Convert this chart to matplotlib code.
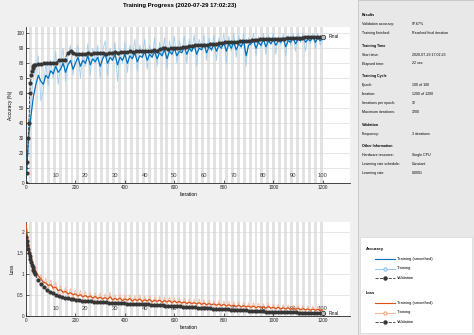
import numpy as np
import matplotlib
matplotlib.use("Agg")
import matplotlib.pyplot as plt
from matplotlib.lines import Line2D
from matplotlib.patches import Rectangle

plt.rcParams['font.family'] = ['Liberation Sans', 'DejaVu Sans']

# training curves read every 10 iterations
train_iter = np.arange(0, 1201, 10)
# validation ran every 3 iterations; read densely at the start, then once per epoch
val_iter = np.r_[np.arange(0, 36, 3), np.arange(36, 1201, 12)]

acc_smooth = [
    0, 30, 45, 58, 66, 72, 68, 66, 72, 70,
    75, 73, 78, 74, 76, 80, 74, 79, 82, 76,
    80, 84, 78, 82, 80, 85, 79, 83, 81, 84,
    78, 83, 86, 80, 84, 82, 86, 79, 84, 82,
    86, 80, 85, 83, 87, 81, 85, 84, 88, 82,
    86, 84, 88, 83, 87, 85, 89, 83, 88, 86,
    90, 85, 88, 87, 91, 86, 90, 88, 92, 86,
    90, 89, 93, 87, 91, 89, 93, 88, 92, 90,
    94, 88, 93, 90, 94, 89, 93, 91, 95, 85,
    92, 93, 95, 90, 94, 92, 96, 91, 95, 93,
    96, 92, 95, 94, 97, 91, 95, 94, 97, 93,
    96, 95, 98, 94, 96, 95, 98, 94, 97, 95,
    97]
acc_raw = [
    0, 40, 55, 70, 78, 85, 55, 62, 80, 65,
    82, 70, 88, 66, 80, 90, 68, 85, 92, 72,
    86, 92, 70, 88, 78, 93, 72, 90, 80, 92,
    70, 88, 95, 72, 90, 82, 94, 68, 90, 80,
    94, 74, 92, 84, 96, 75, 92, 84, 96, 76,
    92, 84, 97, 78, 94, 85, 97, 76, 95, 86,
    98, 80, 95, 88, 98, 80, 96, 88, 99, 78,
    96, 90, 99, 82, 97, 88, 99, 82, 97, 90,
    100, 80, 98, 88, 100, 84, 98, 90, 100, 78,
    97, 92, 100, 85, 98, 90, 100, 86, 99, 92,
    100, 86, 98, 92, 100, 85, 99, 92, 100, 88,
    100, 94, 100, 88, 99, 93, 100, 90, 100, 92,
    96]
acc_val = [
    0, 7, 14, 30, 40, 60, 67, 72, 75, 77, 78, 79,
    79, 79.5, 79.5, 80, 80, 80, 80, 80, 82, 82,
    82, 87, 88.5, 87, 86, 86.5, 86.5, 86.5, 87, 86.5,
    87, 87, 87, 87, 86.5, 87, 87, 87.5, 87, 87.5,
    87.5, 87.5, 88, 87.5, 88, 88, 88, 88, 88.5, 88.5,
    89, 88.5, 89.5, 90, 90, 89.5, 90, 90, 90.5, 90.5,
    91, 91, 91.5, 91.5, 92, 92, 92, 92.5, 92.5, 93,
    93, 93, 93.5, 93.5, 94, 94, 94, 94.5, 94.5, 95,
    95, 95, 95, 95.5, 95.5, 95.5, 96, 96, 96, 96,
    96, 96.5, 96.5, 96.5, 96.5, 97, 97, 97, 97, 97,
    97, 97.5, 97.5, 97.5, 97.5, 97.5, 97.5, 97.67]

loss_smooth = [
    2.2, 1.7, 1.4, 1.2, 1.05, 0.95, 0.88, 0.8, 0.78, 0.72,
    0.74, 0.66, 0.68, 0.6, 0.62, 0.56, 0.58, 0.52, 0.55, 0.5,
    0.52, 0.47, 0.5, 0.45, 0.48, 0.44, 0.47, 0.42, 0.46, 0.41,
    0.44, 0.4, 0.43, 0.39, 0.45, 0.38, 0.41, 0.38, 0.42, 0.36,
    0.4, 0.37, 0.41, 0.35, 0.39, 0.36, 0.4, 0.34, 0.38, 0.35,
    0.39, 0.33, 0.37, 0.34, 0.37, 0.32, 0.36, 0.33, 0.36, 0.31,
    0.35, 0.31, 0.34, 0.3, 0.33, 0.29, 0.32, 0.29, 0.31, 0.28,
    0.31, 0.27, 0.3, 0.26, 0.29, 0.26, 0.28, 0.25, 0.28, 0.24,
    0.27, 0.23, 0.26, 0.23, 0.25, 0.22, 0.25, 0.21, 0.24, 0.21,
    0.23, 0.2, 0.23, 0.19, 0.22, 0.19, 0.21, 0.18, 0.22, 0.18,
    0.2, 0.17, 0.2, 0.16, 0.19, 0.16, 0.19, 0.15, 0.18, 0.15,
    0.18, 0.14, 0.17, 0.14, 0.16, 0.13, 0.16, 0.13, 0.15, 0.12,
    0.14]
loss_raw = [
    2.25, 1.6, 1.5, 1.1, 1.15, 0.85, 0.98, 0.72, 0.9, 0.65,
    0.85, 0.6, 0.8, 0.52, 0.72, 0.5, 0.68, 0.45, 0.65, 0.42,
    0.62, 0.4, 0.6, 0.38, 0.58, 0.37, 0.56, 0.35, 0.55, 0.34,
    0.54, 0.33, 0.52, 0.32, 0.56, 0.31, 0.5, 0.3, 0.52, 0.29,
    0.5, 0.29, 0.5, 0.28, 0.48, 0.28, 0.5, 0.27, 0.46, 0.27,
    0.48, 0.26, 0.45, 0.26, 0.46, 0.25, 0.44, 0.25, 0.45, 0.24,
    0.43, 0.24, 0.42, 0.23, 0.42, 0.22, 0.4, 0.22, 0.39, 0.21,
    0.4, 0.2, 0.38, 0.2, 0.37, 0.19, 0.36, 0.18, 0.36, 0.18,
    0.35, 0.17, 0.34, 0.16, 0.33, 0.16, 0.33, 0.15, 0.32, 0.15,
    0.3, 0.14, 0.31, 0.13, 0.3, 0.13, 0.28, 0.12, 0.3, 0.12,
    0.27, 0.11, 0.27, 0.1, 0.26, 0.1, 0.26, 0.09, 0.25, 0.09,
    0.25, 0.08, 0.24, 0.08, 0.23, 0.07, 0.23, 0.07, 0.22, 0.07,
    0.2]
loss_val = [
    1.88, 1.78, 1.68, 1.58, 1.5, 1.42, 1.35, 1.28, 1.22, 1.16, 1.1, 1.05,
    1.0, 0.85, 0.75, 0.68, 0.62, 0.57, 0.53, 0.5, 0.47, 0.45,
    0.43, 0.42, 0.4, 0.39, 0.38, 0.37, 0.36, 0.355, 0.35, 0.34,
    0.335, 0.33, 0.325, 0.32, 0.315, 0.31, 0.31, 0.305, 0.3, 0.3,
    0.295, 0.29, 0.29, 0.285, 0.28, 0.28, 0.275, 0.27, 0.27, 0.265,
    0.26, 0.255, 0.25, 0.245, 0.24, 0.24, 0.235, 0.23, 0.225, 0.22,
    0.215, 0.21, 0.205, 0.2, 0.2, 0.195, 0.19, 0.185, 0.18, 0.175,
    0.17, 0.165, 0.16, 0.16, 0.155, 0.15, 0.145, 0.14, 0.14, 0.135,
    0.13, 0.125, 0.12, 0.12, 0.115, 0.11, 0.11, 0.105, 0.1, 0.1,
    0.095, 0.095, 0.09, 0.09, 0.085, 0.085, 0.08, 0.08, 0.078, 0.076,
    0.074, 0.072, 0.07, 0.068, 0.066, 0.065, 0.063, 0.062]

n_epochs = 100
iters_per_epoch = 12
epoch_labels = [10, 20, 30, 40, 50, 60, 70, 80, 90, 100]
x_ticks = [0, 200, 400, 600, 800, 1000, 1200]
acc_ticks = [0, 10, 20, 30, 40, 50, 60, 70, 80, 90, 100]
loss_ticks = [0, 0.5, 1, 1.5, 2]

title_text = 'Training Progress (2020-07-29 17:02:23)'
info_sections = [
    ('Results', [('Validation accuracy:', '97.67%'),
                 ('Training finished:', 'Reached final iteration')]),
    ('Training Time', [('Start time:', '2020-07-29 17:02:23'),
                       ('Elapsed time:', '22 sec')]),
    ('Training Cycle', [('Epoch:', '100 of 100'),
                        ('Iteration:', '1200 of 1200'),
                        ('Iterations per epoch:', '12'),
                        ('Maximum iterations:', '1200')]),
    ('Validation', [('Frequency:', '3 iterations')]),
    ('Other Information', [('Hardware resource:', 'Single CPU'),
                           ('Learning rate schedule:', 'Constant'),
                           ('Learning rate:', '0.0001')]),
]

BLUE = '#0072BD'
LIGHT_BLUE = '#96c8ee'
ORANGE = '#D95319'
LIGHT_ORANGE = '#f4b293'
VAL_DARK = '#363636'

W, H = 474, 335


def fx(px):
    return px / W


def fy(py):
    return 1 - py / H


def style_axes(ax, ylim, yticks, ylabel, epoch_label_y):
    ax.set_facecolor('white')
    # alternate epoch shading
    for e in range(1, n_epochs + 1):
        if e % 2 == 0:
            ax.axvspan((e - 1) * iters_per_epoch, e * iters_per_epoch,
                       color='#e2e2e2', lw=0, zorder=0)
    for e in epoch_labels:
        ax.text(e * iters_per_epoch, epoch_label_y, str(e), ha='center',
                va='center', fontsize=4.2, color='#404040', zorder=1)
    ax.set_xlim(0, 1310)
    ax.set_ylim(*ylim)
    ax.set_xticks(x_ticks)
    ax.set_yticks(yticks)
    ax.set_yticklabels([f'{t:g}' for t in yticks])
    ax.yaxis.grid(True, color='#d4d4d4', lw=0.4, zorder=0.5)
    ax.set_axisbelow(True)
    ax.tick_params(direction='in', length=2, width=0.5, labelsize=3.4,
                   pad=1.5, colors='#262626')
    for side in ['top', 'right']:
        ax.spines[side].set_visible(False)
    for side in ['left', 'bottom']:
        ax.spines[side].set_linewidth(0.6)
        ax.spines[side].set_color('#262626')
    ax.set_xlabel('Iteration', fontsize=3.5, labelpad=1.5)
    ax.set_ylabel(ylabel, fontsize=3.5, labelpad=2)


fig = plt.figure(figsize=(W / 100, H / 100), dpi=100, facecolor='#f0f0f0')

# right info panel and legend box
fig.add_artist(Rectangle((fx(358), 0), 1 - fx(358), 1, transform=fig.transFigure,
                         facecolor='#e8e8e8', edgecolor='#c4c4c4', lw=0.6))
fig.add_artist(Rectangle((fx(360), fy(333)), fx(472) - fx(360), fy(237) - fy(333),
                         transform=fig.transFigure, facecolor='white',
                         edgecolor='#d0d0d0', lw=0.4))

fig.text(fx(180), fy(6), title_text, ha='center', va='center',
         fontsize=4.3, fontweight='bold')

# accuracy plot
ax1 = fig.add_axes([fx(26), fy(183.3), fx(350) - fx(26), fy(27) - fy(183.3)])
style_axes(ax1, (0, 104.2), acc_ticks, 'Accuracy (%)', 5)
ax1.plot(train_iter, acc_raw, color=LIGHT_BLUE, lw=0.6, alpha=0.85, zorder=2)
ax1.plot(train_iter, acc_smooth, color=BLUE, lw=0.9, zorder=3)
ax1.plot(val_iter, acc_val, color=VAL_DARK, lw=0.6, ls='--', marker='o',
         ms=2.0, mec=VAL_DARK, mfc=VAL_DARK, zorder=4)
ax1.plot([val_iter[-1]], [acc_val[-1]], marker='o', ms=3.2, mfc='#bbbbbb',
         mec=VAL_DARK, mew=0.5, zorder=5)
ax1.text(val_iter[-1] + 25, acc_val[-1], 'Final', fontsize=3.3,
         va='center', ha='left', zorder=5)

# loss plot
ax2 = fig.add_axes([fx(26), fy(315.7), fx(350) - fx(26), fy(221.7) - fy(315.7)])
style_axes(ax2, (0, 2.24), loss_ticks, 'Loss', 0.16)
ax2.plot(train_iter, loss_raw, color=LIGHT_ORANGE, lw=0.6, alpha=0.85, zorder=2)
ax2.plot(train_iter, loss_smooth, color=ORANGE, lw=0.9, zorder=3)
ax2.plot(val_iter, loss_val, color=VAL_DARK, lw=0.6, ls='--', marker='o',
         ms=2.0, mec=VAL_DARK, mfc=VAL_DARK, zorder=4)
ax2.plot([val_iter[-1]], [loss_val[-1]], marker='o', ms=3.2, mfc='#bbbbbb',
         mec=VAL_DARK, mew=0.5, zorder=5)
ax2.text(val_iter[-1] + 25, loss_val[-1], 'Final', fontsize=3.3,
         va='center', ha='left', zorder=5)

# info text on the right
y = 15
for header, rows in info_sections:
    fig.text(fx(362), fy(y), header, fontsize=2.6, fontweight='bold', va='center')
    for name, value in rows:
        y += 9
        fig.text(fx(362), fy(y), name, fontsize=2.6, va='center')
        fig.text(fx(412), fy(y), value, fontsize=2.6, va='center')
    y += 12.5

# legend
legend_groups = [
    ('Accuracy', 249, BLUE, LIGHT_BLUE),
    ('Loss', 293, ORANGE, LIGHT_ORANGE),
]
for name, y0, dark, light in legend_groups:
    fig.text(fx(366), fy(y0), name, fontsize=2.9, fontweight='bold', va='center')
    entries = [
        ('Training (smoothed)', dict(color=dark, lw=0.8)),
        ('Training', dict(color=light, lw=0.7, marker='o', ms=2.2, mfc='white',
                          markevery=[1])),
        ('Validation', dict(color=VAL_DARK, lw=0.6, ls='--', marker='o', ms=2.2,
                            markevery=[1])),
    ]
    for i, (label, kw) in enumerate(entries):
        ly = y0 + 10 + i * 9.5
        fig.add_artist(Line2D([fx(375), fx(385), fx(395)], [fy(ly)] * 3,
                              transform=fig.transFigure, **kw))
        fig.text(fx(397), fy(ly), label, fontsize=2.9, va='center')

fig.savefig('out.png', dpi=100, facecolor=fig.get_facecolor())
